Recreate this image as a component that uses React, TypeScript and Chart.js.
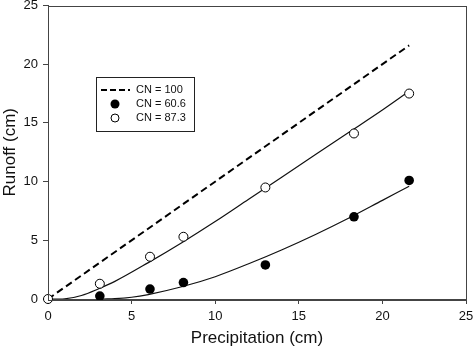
import React, { useEffect, useRef } from "react";
import { Chart, registerables } from "chart.js";

Chart.register(...registerables);

// Observed data
const precip = [0, 3.1, 6.1, 8.1, 13, 18.3, 21.6];
const runoffCN873 = [0, 1.3, 3.6, 5.3, 9.5, 14.1, 17.5];
const precipCN606 = [3.1, 6.1, 8.1, 13, 18.3, 21.6];
const runoffCN606 = [0.25, 0.85, 1.4, 2.9, 7.0, 10.1];

// Fitted curves
const curveP100 = [0, 21.6];
const curveQ100 = [0, 21.6];
const curveP873 = [0, 0.7, 1, 2, 3, 4, 6, 8, 10, 12, 14, 16, 18, 20, 21.6];
const curveQ873 = [0, 0, 0.02, 0.3, 0.85, 1.5, 3.1, 4.8, 6.6, 8.5, 10.4, 12.3, 14.2, 16.1, 17.7];
const curveP606 = [3.3, 4, 5, 6, 8, 10, 12, 14, 16, 18, 20, 21.6];
const curveQ606 = [0, 0.03, 0.15, 0.38, 1.04, 1.9, 3.0, 4.2, 5.5, 6.9, 8.4, 9.6];

const xTicks = [0, 5, 10, 15, 20, 25];
const yTicks = [0, 5, 10, 15, 20, 25];
const legendLabels = ["CN = 100", "CN = 60.6", "CN = 87.3"];

const FONT = "'Liberation Sans', Arial, sans-serif";
const AXIS = "#444";

const toXY = (xs: number[], ys: number[]) => xs.map((x, i) => ({ x, y: ys[i] }));

const boxPlugin = {
  id: "boxAndLegend",
  afterDraw(chart: any) {
    const { ctx, chartArea } = chart;
    ctx.save();
    ctx.strokeStyle = AXIS;
    ctx.lineWidth = 1;
    ctx.strokeRect(
      Math.round(chartArea.left) + 0.5,
      Math.round(chartArea.top) + 0.5,
      Math.round(chartArea.right - chartArea.left),
      Math.round(chartArea.bottom - chartArea.top)
    );
    // legend
    const bx = 96.5, by = 77.5, bw = 98, bh = 54;
    ctx.fillStyle = "#fff";
    ctx.fillRect(bx, by, bw, bh);
    ctx.strokeStyle = "#222";
    ctx.strokeRect(bx, by, bw, bh);
    const rows = [90, 104, 118];
    // dashed
    ctx.strokeStyle = "#000";
    ctx.lineWidth = 2;
    ctx.setLineDash([6, 3]);
    ctx.beginPath();
    ctx.moveTo(101, rows[0]);
    ctx.lineTo(130, rows[0]);
    ctx.stroke();
    ctx.setLineDash([]);
    // filled
    ctx.fillStyle = "#000";
    ctx.beginPath();
    ctx.arc(115, rows[1], 4.5, 0, Math.PI * 2);
    ctx.fill();
    // open
    ctx.lineWidth = 1;
    ctx.fillStyle = "#fff";
    ctx.beginPath();
    ctx.arc(115, rows[2], 4, 0, Math.PI * 2);
    ctx.fill();
    ctx.stroke();
    ctx.fillStyle = "#111";
    ctx.font = `11px ${FONT}`;
    ctx.textBaseline = "middle";
    ctx.textAlign = "left";
    legendLabels.forEach((t, i) => ctx.fillText(t, 136, rows[i]));
    ctx.restore();
  },
};

export default function App() {
  const ref = useRef<HTMLCanvasElement>(null);
  useEffect(() => {
    document.body.style.margin = "0";
    const chart = new Chart(ref.current!, {
      type: "scatter",
      data: {
        datasets: [
          {
            label: "CN = 87.3",
            data: toXY(precip, runoffCN873),
            pointRadius: 4.5,
            pointBackgroundColor: "#fff",
            pointBorderColor: "#000",
            pointBorderWidth: 1,
            showLine: false,
            clip: false as any,
          },
          {
            label: "CN = 60.6",
            data: toXY(precipCN606, runoffCN606),
            pointRadius: 4.8,
            pointBackgroundColor: "#000",
            pointBorderColor: "#000",
            pointBorderWidth: 0,
            showLine: false,
            clip: false as any,
          },
          {
            label: "fit 87.3",
            data: toXY(curveP873, curveQ873),
            showLine: true,
            pointRadius: 0,
            borderColor: "#111",
            borderWidth: 1.2,
            cubicInterpolationMode: "monotone",
          },
          {
            label: "fit 60.6",
            data: toXY(curveP606, curveQ606),
            showLine: true,
            pointRadius: 0,
            borderColor: "#111",
            borderWidth: 1.2,
            cubicInterpolationMode: "monotone",
          },
          {
            label: "CN = 100",
            data: toXY(curveP100, curveQ100),
            showLine: true,
            pointRadius: 0,
            borderColor: "#000",
            borderWidth: 2,
            borderDash: [7, 4],
          },
        ],
      },
      options: {
        animation: false,
        responsive: false,
        layout: { padding: { top: 5, right: 8, left: 0, bottom: 0 } },
        plugins: { legend: { display: false }, tooltip: { enabled: false } },
        scales: {
          x: {
            type: "linear",
            min: 0,
            max: 25,
            afterBuildTicks: (s: any) => {
              s.ticks = xTicks.map((v) => ({ value: v }));
            },
            afterFit: (s: any) => {
              s.height = 52;
              s.paddingLeft = 0;
              s.paddingRight = 0;
            },
            grid: { drawOnChartArea: false, tickLength: 5, tickColor: AXIS },
            border: { color: AXIS, width: 1 },
            ticks: { color: "#111", font: { family: FONT, size: 13 }, padding: 5, maxRotation: 0 },
            title: {
              display: true,
              text: "Precipitation (cm)",
              color: "#111",
              font: { family: FONT, size: 17 },
              padding: { top: 0, bottom: 2 },
            },
          },
          y: {
            type: "linear",
            min: 0,
            max: 25,
            afterBuildTicks: (s: any) => {
              s.ticks = yTicks.map((v) => ({ value: v }));
            },
            afterFit: (s: any) => {
              s.width = 48;
              s.paddingTop = 0;
              s.paddingBottom = 0;
            },
            grid: { drawOnChartArea: false, tickLength: 5, tickColor: AXIS },
            border: { color: AXIS, width: 1 },
            ticks: { color: "#111", font: { family: FONT, size: 13 }, padding: 5 },
            title: {
              display: true,
              text: "Runoff (cm)",
              color: "#111",
              font: { family: FONT, size: 17 },
              padding: { top: 0, bottom: 0 },
            },
          },
        },
      },
      plugins: [boxPlugin],
    } as any);
    return () => chart.destroy();
  }, []);
  return (
    <div style={{ position: "absolute", left: 0, top: 0, width: 474, height: 351 }}>
      <canvas ref={ref} width={474} height={351} style={{ width: 474, height: 351 }} />
    </div>
  );
}
